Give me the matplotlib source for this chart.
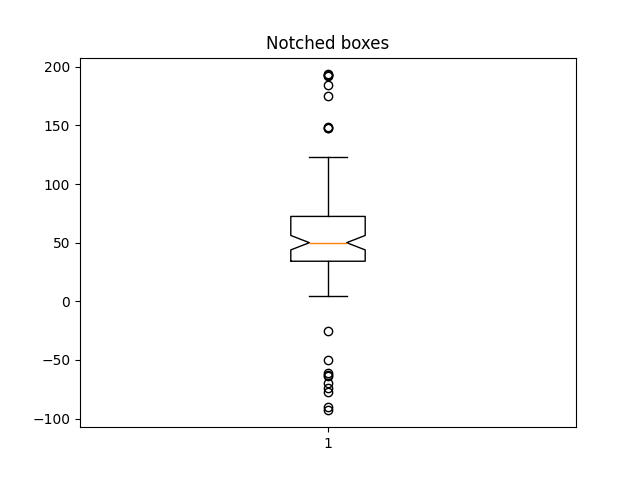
import matplotlib
matplotlib.use('Agg')
import matplotlib.pyplot as plt
import numpy as np

# values
spread_low = [4.5, 7.2, 9.8, 12.1, 14.9, 17.3, 19.6, 21.8, 24.4, 26.7, 28.9, 31.0, 32.6,
              33.8, 34.6, 36.2, 38.1, 39.7, 41.5, 42.9, 44.3, 45.8, 47.0, 48.2, 49.4]
spread_high = [51.2, 53.5, 55.1, 57.8, 60.3, 62.4, 64.9, 66.7, 68.8, 70.6, 71.9, 72.9, 74.8,
               77.1, 79.5, 81.6, 83.4, 85.9, 87.7, 89.8, 91.5, 93.6, 95.4, 97.2, 99.1]
center = [50.0] * 25
flier_high = [123.3, 147.5, 148.0, 148.5, 175.2, 184.5, 192.5, 192.8, 193.2, 193.5]
flier_low = [-93.0, -90.0, -77.5, -73.8, -69.9, -64.0, -62.5, -61.3, -50.4, -25.6]

data = np.concatenate((spread_low, spread_high, center, flier_high, flier_low))

fig, ax = plt.subplots(figsize=(6.4, 4.8), dpi=100)
ax.set_title('Notched boxes')
ax.boxplot(data, notch=True)
fig.savefig('out.png')
